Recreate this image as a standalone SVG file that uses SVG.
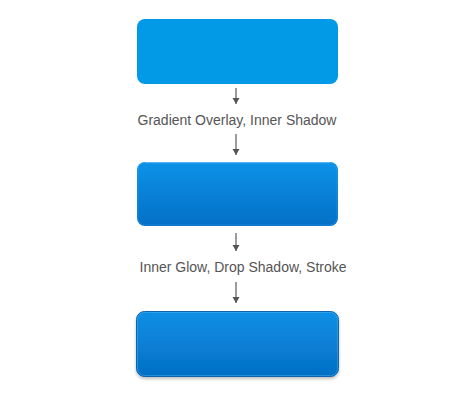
<svg xmlns="http://www.w3.org/2000/svg" width="474" height="400" viewBox="0 0 474 400">
<defs>
<linearGradient id="g2" x1="0" y1="0" x2="0" y2="1">
<stop offset="0" stop-color="#0c92e8"/>
<stop offset="1" stop-color="#0470c6"/>
</linearGradient>
<linearGradient id="g3" x1="0" y1="0" x2="0" y2="1">
<stop offset="0" stop-color="#0a8fe6"/>
<stop offset="1" stop-color="#056fc4"/>
</linearGradient>
<filter id="ds" x="-10%" y="-10%" width="120%" height="130%">
<feDropShadow dx="0" dy="2" stdDeviation="1.5" flood-color="#000" flood-opacity="0.25"/>
</filter>
<marker id="ah" markerWidth="8" markerHeight="8" refX="6" refY="4" orient="auto" markerUnits="userSpaceOnUse">
<path d="M0,0.5 L6,4 L0,7.5 Z" fill="#555"/>
</marker>
<style>
.lbl{font-family:"Liberation Sans",Arial,sans-serif;font-size:14px;fill:#555;text-anchor:middle}
.conn{stroke:#666;stroke-width:1.3;fill:none}
</style>
</defs>
<rect width="474" height="400" fill="#fff"/>
<g id="box1">
<rect x="137" y="19" width="201" height="65" rx="8" fill="#029ae7"/>
</g>
<g id="box2">
<rect x="137" y="162" width="201" height="64" rx="8" fill="url(#g2)"/>
<rect x="138" y="163" width="199" height="62" rx="7" fill="none" stroke="#3aa6ee" stroke-opacity="0.35" stroke-width="1"/>
<line x1="145" y1="162.6" x2="330" y2="162.6" stroke="#5cb8f2" stroke-width="1"/>
</g>
<g id="box3">
<rect x="136.5" y="311.5" width="202" height="65" rx="8" fill="url(#g3)" stroke="#0a63ad" stroke-width="1" filter="url(#ds)"/>
<rect x="137.5" y="312.5" width="200" height="63" rx="7" fill="none" stroke="#4fb3f2" stroke-opacity="0.45" stroke-width="1"/>
</g>
<g id="connectors">
<line class="conn" x1="236" y1="88" x2="236" y2="104" marker-end="url(#ah)"/>
<line class="conn" x1="236" y1="134" x2="236" y2="155" marker-end="url(#ah)"/>
<line class="conn" x1="236" y1="233" x2="236" y2="251" marker-end="url(#ah)"/>
<line class="conn" x1="236" y1="282" x2="236" y2="303" marker-end="url(#ah)"/>
</g>
<g id="label1"><text class="lbl" x="237" y="125">Gradient Overlay, Inner Shadow</text></g>
<g id="label2"><text class="lbl" x="243" y="272">Inner Glow, Drop Shadow, Stroke</text></g>
</svg>
